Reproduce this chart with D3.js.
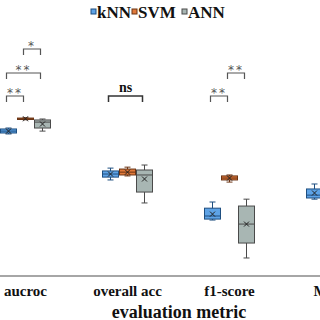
<!DOCTYPE html>
<html>
<head>
<meta charset="utf-8">
<script src="https://cdn.jsdelivr.net/npm/d3@7"></script>
<style>
  body { margin: 0; background: #fff; }
  text { font-family: "Liberation Serif", "DejaVu Serif", serif; }
  text.star { font-family: "DejaVu Sans", sans-serif; }
</style>
</head>
<body>
<div id="chart"></div>
<script>
// categories and models
var categories = ["aucroc", "overall acc", "f1-score", "MCC"];
var models = ["kNN", "SVM", "ANN"];

// box stats per model, one entry per category: [min, q1, median, q3, max, mean]
var knnStats = [
    [0.899, 0.903, 0.911, 0.920, 0.924, 0.911],
    [0.705, 0.717, 0.730, 0.743, 0.755, 0.730],
    [0.536, 0.540, 0.553, 0.586, 0.612, 0.561],
    [0.624, 0.629, 0.641, 0.667, 0.688, 0.650]
];
var svmStats = [
    [0.959, 0.960, 0.963, 0.966, 0.967, 0.963],
    [0.722, 0.726, 0.738, 0.751, 0.759, 0.738],
    [0.696, 0.705, 0.713, 0.722, 0.726, 0.713],
    null
];
var annStats = [
    [0.911, 0.924, 0.949, 0.958, 0.962, 0.941],
    [0.608, 0.654, 0.726, 0.747, 0.768, 0.709],
    [0.376, 0.439, 0.519, 0.595, 0.624, 0.519],
    null
];

// significance brackets: category, from model, to model, level, label
var brackets = [
    ["aucroc", "kNN", "SVM", 0, "**"],
    ["aucroc", "kNN", "ANN", 1, "**"],
    ["aucroc", "SVM", "ANN", 2, "*"],
    ["overall acc", "kNN", "ANN", 0, "ns"],
    ["f1-score", "kNN", "SVM", 0, "**"],
    ["f1-score", "SVM", "ANN", 1, "**"]
];

//-----------------------------SVG-------------------------------//
const width = 320;
const height = 320;
const axisY = 276;

const svg = d3.select("#chart").append("svg")
    .attr("width", width)
    .attr("height", height);

const colors = {
    kNN: { fill: "#5ea3e6", stroke: "#1f4f80" },
    SVM: { fill: "#e0793a", stroke: "#6b3414" },
    ANN: { fill: "#a8b6b3", stroke: "#4a4a4a" }
};
const statsByModel = { kNN: knnStats, SVM: svmStats, ANN: annStats };

//----------------------------SCALES-----------------------------//
var xScale = d3.scalePoint().domain(categories).range([25.5, 331.5]);
var xInner = d3.scaleBand().domain(models).range([-25.5, 25.5]);
var yScale = d3.scaleLinear().domain([0.3, 1.0]).range([axisY, 110]);

function modelX(cat, m) {
    return xScale(cat) + xInner(m) + xInner.bandwidth() / 2;
}

//-----------------------------AXIS------------------------------//
svg.append("line")
    .attr("x1", 0).attr("x2", width)
    .attr("y1", axisY).attr("y2", axisY)
    .attr("stroke", "#a6a6a6")
    .attr("stroke-width", 2);

svg.selectAll(".cat")
    .data(categories)
    .enter().append("text")
    .attr("class", "cat")
    .attr("x", d => xScale(d))
    .attr("y", 296)
    .attr("text-anchor", "middle")
    .attr("font-size", 15)
    .attr("font-weight", "bold")
    .attr("fill", "#111")
    .text(d => d);

svg.append("text")
    .attr("x", 179)
    .attr("y", 318)
    .attr("text-anchor", "middle")
    .attr("font-size", 18)
    .attr("font-weight", "bold")
    .attr("fill", "#111")
    .text("evaluation metric");

//----------------------------BOXES------------------------------//
const boxW = 16;
models.forEach(function(m) {
    statsByModel[m].forEach(function(s, i) {
        if (!s) return;
        var cat = categories[i];
        var cx = modelX(cat, m);
        var g = svg.append("g");
        var c = colors[m];
        // whisker
        g.append("line")
            .attr("x1", cx).attr("x2", cx)
            .attr("y1", yScale(s[0])).attr("y2", yScale(s[4]))
            .attr("stroke", c.stroke).attr("stroke-width", 1);
        [s[0], s[4]].forEach(function(v) {
            g.append("line")
                .attr("x1", cx - 3).attr("x2", cx + 3)
                .attr("y1", yScale(v)).attr("y2", yScale(v))
                .attr("stroke", c.stroke).attr("stroke-width", 1);
        });
        // box
        g.append("rect")
            .attr("x", cx - boxW / 2)
            .attr("y", yScale(s[3]))
            .attr("width", boxW)
            .attr("height", Math.max(1, yScale(s[1]) - yScale(s[3])))
            .attr("fill", c.fill)
            .attr("stroke", c.stroke)
            .attr("stroke-width", 1);
        // median
        g.append("line")
            .attr("x1", cx - boxW / 2).attr("x2", cx + boxW / 2)
            .attr("y1", yScale(s[2])).attr("y2", yScale(s[2]))
            .attr("stroke", c.stroke).attr("stroke-width", 1);
        // mean marker
        var my = yScale(s[5]);
        g.append("path")
            .attr("d", "M" + (cx - 2.5) + "," + (my - 2.5) + "L" + (cx + 2.5) + "," + (my + 2.5) +
                "M" + (cx - 2.5) + "," + (my + 2.5) + "L" + (cx + 2.5) + "," + (my - 2.5))
            .attr("stroke", "#222").attr("stroke-width", 1);
    });
});

//--------------------------BRACKETS-----------------------------//
const levelY = [96, 73, 49];
brackets.forEach(function(b) {
    var ns = b[4] === "ns";
    var x1 = modelX(b[0], b[1]) - 2;
    var x2 = modelX(b[0], b[2]) - 2;
    var y = levelY[b[3]];
    svg.append("path")
        .attr("d", "M" + x1 + "," + (y + 6) + "V" + y + "H" + x2 + "V" + (y + 6))
        .attr("fill", "none")
        .attr("stroke", ns ? "#333" : "#555")
        .attr("stroke-width", ns ? 1.5 : 1.2);
    svg.append("text")
        .attr("class", ns ? "lbl" : "star")
        .attr("x", (x1 + x2) / 2)
        .attr("y", ns ? y - 4 : y + 1)
        .attr("text-anchor", "middle")
        .attr("font-size", ns ? 14 : 12)
        .attr("font-weight", ns ? "bold" : "normal")
        .style("fill", ns ? "#111" : "#555")
        .attr("letter-spacing", ns ? 0 : 2)
        .text(b[4]);
});

//---------------------------LEGEND------------------------------//
const legendX = [91, 132, 182];
models.forEach(function(m, i) {
    svg.append("rect")
        .attr("x", legendX[i]).attr("y", 9)
        .attr("width", 5).attr("height", 5)
        .attr("fill", colors[m].fill)
        .attr("stroke", colors[m].stroke)
        .attr("stroke-width", 1);
    svg.append("text")
        .attr("x", legendX[i] + 6)
        .attr("y", 18)
        .attr("font-size", 17)
        .attr("font-weight", "bold")
        .attr("fill", "#111")
        .text(m);
});
</script>
</body>
</html>
